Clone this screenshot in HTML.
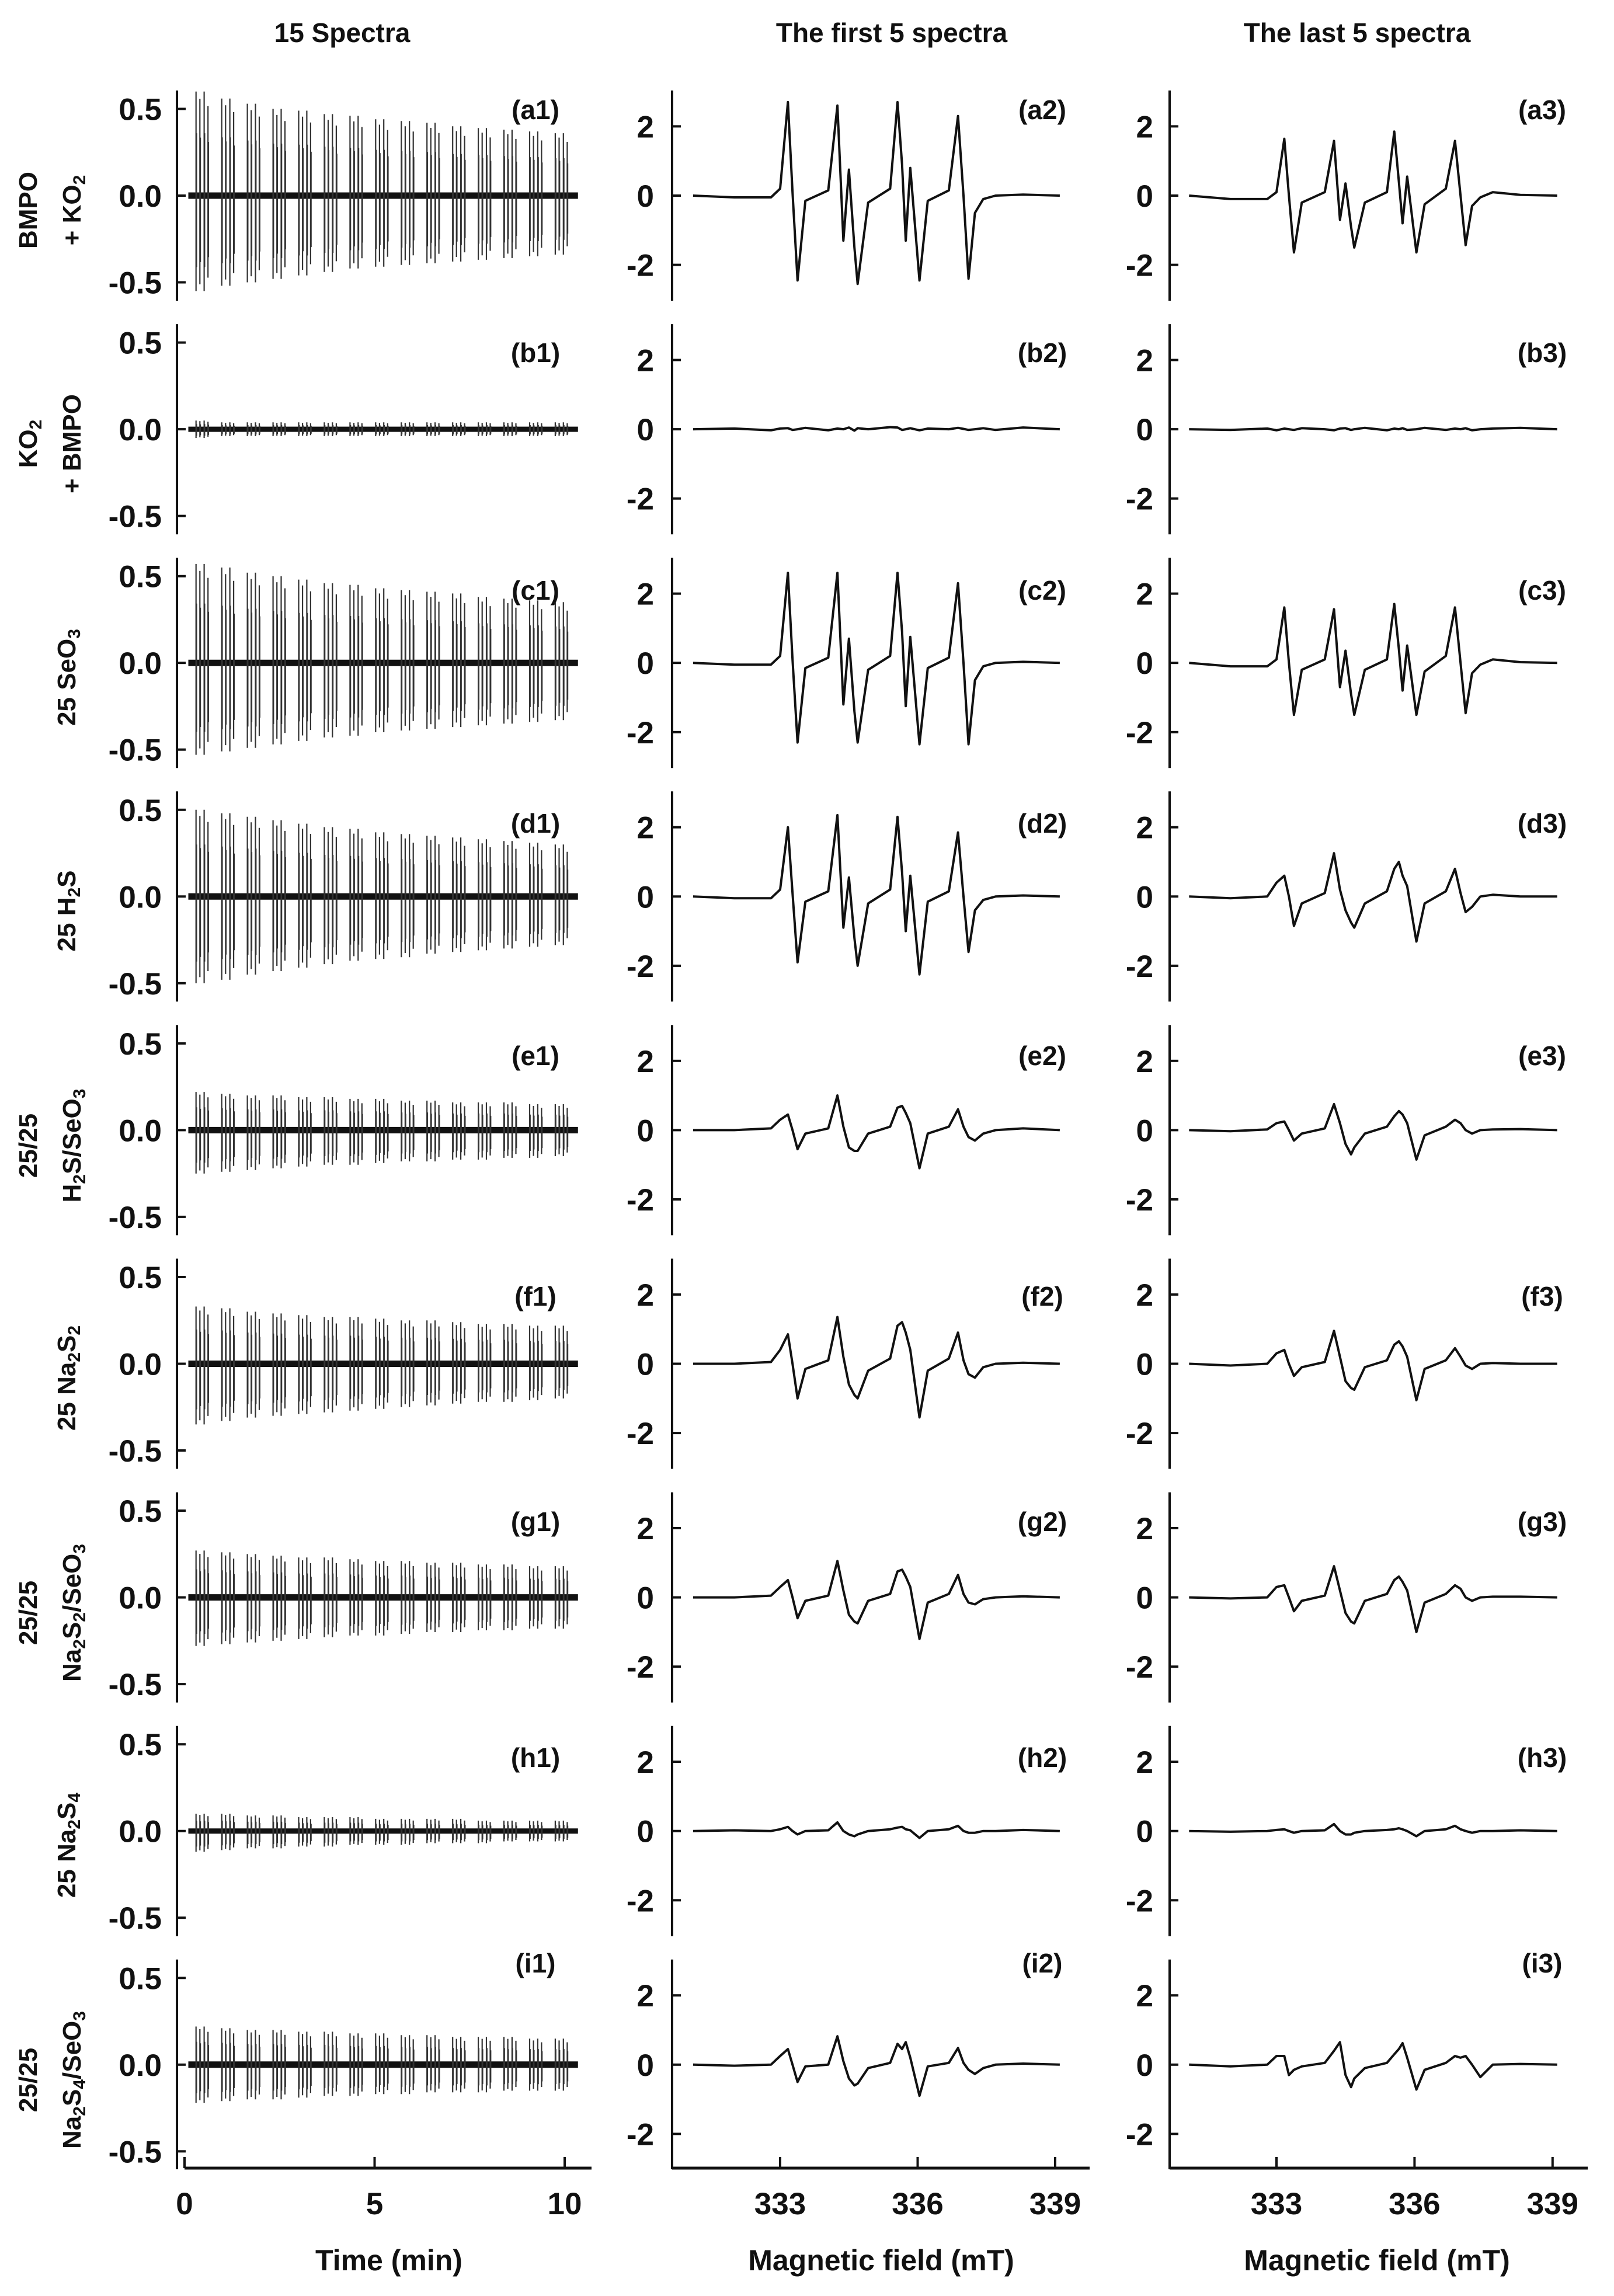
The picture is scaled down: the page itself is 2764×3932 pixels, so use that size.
<!DOCTYPE html>
<html><head><meta charset="utf-8"><style>
html,body{margin:0;padding:0;background:#fff}
svg{display:block}
text{font-family:"Liberation Sans",Arial,sans-serif;font-weight:bold;fill:#111}
</style></head><body>
<svg id="fig" xmlns="http://www.w3.org/2000/svg" width="2764" height="3932" viewBox="0 0 2764 3932">
<rect width="2764" height="3932" fill="#fff"/>
<g font-size="46" text-anchor="middle">
<text x="586" y="72">15 Spectra</text>
<text x="1527" y="72">The first 5 spectra</text>
<text x="2324" y="72">The last 5 spectra</text>
</g>
<g font-size="44" text-anchor="middle">
<text transform="rotate(-90 63 360)" x="63" y="360">BMPO</text>
<text transform="rotate(-90 138 360)" x="138" y="360">+ KO<tspan font-size="30" dy="8">2</tspan></text>
<text transform="rotate(-90 63 760)" x="63" y="760">KO<tspan font-size="30" dy="8">2</tspan></text>
<text transform="rotate(-90 138 760)" x="138" y="760">+ BMPO</text>
<text transform="rotate(-90 129 1160)" x="129" y="1160">25 SeO<tspan font-size="30" dy="8">3</tspan></text>
<text transform="rotate(-90 129 1560)" x="129" y="1560">25 H<tspan font-size="30" dy="8">2</tspan><tspan dy="-8">S</tspan></text>
<text transform="rotate(-90 63 1962)" x="63" y="1962">25/25</text>
<text transform="rotate(-90 138 1962)" x="138" y="1962">H<tspan font-size="30" dy="8">2</tspan><tspan dy="-8">S/SeO</tspan><tspan font-size="30" dy="8">3</tspan></text>
<text transform="rotate(-90 129 2360)" x="129" y="2360">25 Na<tspan font-size="30" dy="8">2</tspan><tspan dy="-8">S</tspan><tspan font-size="30" dy="8">2</tspan></text>
<text transform="rotate(-90 63 2762)" x="63" y="2762">25/25</text>
<text transform="rotate(-90 138 2762)" x="138" y="2762">Na<tspan font-size="30" dy="8">2</tspan><tspan dy="-8">S</tspan><tspan font-size="30" dy="8">2</tspan><tspan dy="-8">/SeO</tspan><tspan font-size="30" dy="8">3</tspan></text>
<text transform="rotate(-90 129 3160)" x="129" y="3160">25 Na<tspan font-size="30" dy="8">2</tspan><tspan dy="-8">S</tspan><tspan font-size="30" dy="8">4</tspan></text>
<text transform="rotate(-90 63 3562)" x="63" y="3562">25/25</text>
<text transform="rotate(-90 138 3562)" x="138" y="3562">Na<tspan font-size="30" dy="8">2</tspan><tspan dy="-8">S</tspan><tspan font-size="30" dy="8">4</tspan><tspan dy="-8">/SeO</tspan><tspan font-size="30" dy="8">3</tspan></text>
</g>
<g font-size="50" text-anchor="middle">
<text x="666" y="3888">Time (min)</text>
<text x="1509" y="3888">Magnetic field (mT)</text>
<text x="2358" y="3888">Magnetic field (mT)</text>
</g>
<g id="plots"></g>
</svg>
<script>
// ---- data ----
const rowIds = ["a","b","c","d","e","f","g","h","i"];
const labelY = [189,605,1012,1411,1809,2221,2607,3011,3363];
const col1Ticks = [-0.5, 0.0, 0.5];
const col1TickLabels = ["-0.5","0.0","0.5"];
const col23Ticks = [-2, 0, 2];
const col23TickLabels = ["-2","0","2"];
const timeTicks = [0, 5, 10];
const timeTickLabels = ["0","5","10"];
const fieldTicks = [333, 336, 339];
const fieldTickLabels = ["333","336","339"];
// magnetic field sample points (mT)
const fp = [331.1,332.0,332.8,333.0,333.17,333.27,333.38,333.55,334.05,334.25,334.38,334.5,334.62,334.69,334.92,335.4,335.56,335.66,335.74,335.84,336.04,336.22,336.68,336.88,337.0,337.11,337.25,337.43,337.7,338.3,339.1];
const a2 = [0,-0.05,-0.05,0.2,2.7,0.1,-2.45,-0.15,0.15,2.6,-1.3,0.75,-1.5,-2.55,-0.2,0.2,2.7,0.9,-1.3,0.8,-2.45,-0.15,0.15,2.3,0,-2.4,-0.5,-0.1,0,0.03,0];
const a3 = [0,-0.1,-0.1,0.1,1.64,0,-1.64,-0.2,0.1,1.58,-0.7,0.35,-0.9,-1.5,-0.2,0.1,1.85,0.4,-0.8,0.55,-1.64,-0.25,0.2,1.58,0,-1.43,-0.3,-0.05,0.1,0.02,0];
const b2 = [0,0.02,-0.03,0.02,0.03,-0.02,0,0.04,-0.03,0.02,0,0.05,-0.04,0.03,0,0.06,0.05,-0.02,0,0.03,-0.03,0.02,0,0.04,0.01,-0.02,0,0.03,-0.02,0.05,0];
const b3 = [0,-0.02,0.02,-0.03,0.02,0,-0.02,0.03,0,-0.03,0.02,0.03,-0.02,0,0.04,-0.03,0.02,0,0.03,-0.02,0,0.04,-0.02,0.02,0,0.03,-0.03,0,0.02,0.04,0];
const c2 = [0,-0.05,-0.05,0.2,2.6,0.1,-2.3,-0.15,0.15,2.6,-1.2,0.7,-1.4,-2.3,-0.2,0.2,2.6,0.9,-1.25,0.75,-2.35,-0.15,0.15,2.3,0,-2.35,-0.5,-0.1,0,0.03,0];
const c3 = [0,-0.1,-0.1,0.1,1.6,0,-1.5,-0.2,0.1,1.55,-0.7,0.35,-0.9,-1.5,-0.2,0.1,1.7,0.4,-0.8,0.5,-1.5,-0.25,0.2,1.6,0,-1.45,-0.3,-0.05,0.1,0.02,0];
const d2 = [0,-0.05,-0.05,0.2,2.0,0.1,-1.9,-0.15,0.15,2.35,-0.9,0.55,-1.2,-2.0,-0.2,0.2,2.3,0.7,-1.0,0.6,-2.25,-0.15,0.15,1.85,0,-1.6,-0.4,-0.1,0,0.03,0];
const d3 = [0,-0.05,0,0.4,0.6,0,-0.85,-0.2,0.1,1.25,0.2,-0.4,-0.75,-0.9,-0.2,0.15,0.8,1.0,0.6,0.3,-1.3,-0.2,0.15,0.8,0.1,-0.45,-0.3,0,0.05,0,0];
const e2 = [0,0,0.05,0.3,0.45,0,-0.55,-0.1,0.05,1.0,0.1,-0.5,-0.6,-0.6,-0.1,0.1,0.65,0.7,0.5,0.2,-1.1,-0.1,0.1,0.6,0.1,-0.2,-0.3,-0.1,0,0.05,0];
const e3 = [0,-0.03,0.02,0.2,0.25,0,-0.3,-0.1,0.05,0.75,0.2,-0.4,-0.7,-0.5,-0.1,0.1,0.4,0.55,0.45,0.2,-0.85,-0.15,0.1,0.3,0.2,0,-0.1,0,0.02,0.03,0];
const f2 = [0,0,0.05,0.4,0.85,0,-1.0,-0.15,0.1,1.35,0.2,-0.6,-0.9,-1.0,-0.2,0.15,1.1,1.2,0.9,0.4,-1.55,-0.2,0.15,0.9,0.1,-0.3,-0.4,-0.1,0,0.03,0];
const f3 = [0,-0.05,0,0.3,0.4,0,-0.35,-0.1,0.05,0.95,0.2,-0.5,-0.7,-0.75,-0.1,0.1,0.55,0.65,0.5,0.2,-1.05,-0.15,0.1,0.45,0.2,-0.05,-0.15,0,0.02,0,0];
const g2 = [0,0,0.05,0.3,0.5,0,-0.6,-0.1,0.05,1.05,0.2,-0.5,-0.7,-0.75,-0.1,0.1,0.75,0.8,0.6,0.3,-1.2,-0.15,0.1,0.65,0.1,-0.15,-0.2,-0.05,0,0.03,0];
const g3 = [0,-0.03,0,0.3,0.35,0,-0.4,-0.1,0.05,0.9,0.2,-0.45,-0.7,-0.75,-0.1,0.1,0.5,0.6,0.45,0.2,-1.0,-0.15,0.1,0.35,0.25,0,-0.1,0,0.02,0.02,0];
const h2 = [0,0.02,0,0.05,0.12,0,-0.1,0,0.02,0.25,0,-0.1,-0.15,-0.1,0,0.05,0.1,0.12,0.05,0.02,-0.2,0,0.05,0.15,0,-0.05,-0.05,0,0,0.03,0];
const h3 = [0,-0.02,0,0.03,0.05,0,-0.05,0,0.02,0.2,0,-0.1,-0.1,-0.05,0,0.03,0.05,0.08,0.05,0,-0.15,0,0.05,0.15,0.05,0,-0.05,0,0,0.02,0];
const i2 = [0,-0.03,0,0.25,0.45,0,-0.5,-0.05,0,0.82,0.1,-0.4,-0.6,-0.55,-0.1,0.05,0.6,0.45,0.65,0.2,-0.9,-0.05,0.05,0.48,0.05,-0.15,-0.27,-0.1,0,0.03,0];
const i3 = [0,-0.05,0,0.25,0.25,-0.3,-0.15,-0.05,0.05,0.4,0.65,-0.3,-0.65,-0.4,-0.1,0.05,0.3,0.45,0.62,0.2,-0.72,-0.15,0.05,0.25,0.2,0.25,0,-0.36,0,0.02,0];
const firstSeries = [a2,b2,c2,d2,e2,f2,g2,h2,i2];
const lastSeries = [a3,b3,c3,d3,e3,f3,g3,h3,i3];
// 15-spectra time course: spike heights (up / down) per spectrum
const aUp = [0.6,0.56,0.53,0.5,0.49,0.47,0.46,0.44,0.43,0.42,0.4,0.39,0.38,0.37,0.36];
const aDn = [0.55,0.52,0.5,0.48,0.46,0.44,0.42,0.41,0.4,0.39,0.38,0.37,0.36,0.35,0.34];
const bUp = [0.05,0.04,0.04,0.04,0.04,0.04,0.04,0.04,0.04,0.04,0.04,0.04,0.04,0.04,0.04];
const bDn = [0.05,0.04,0.04,0.04,0.04,0.04,0.04,0.04,0.04,0.04,0.04,0.04,0.04,0.04,0.04];
const cUp = [0.57,0.55,0.52,0.5,0.48,0.46,0.45,0.43,0.42,0.41,0.4,0.38,0.37,0.36,0.35];
const cDn = [0.53,0.51,0.49,0.47,0.45,0.43,0.42,0.4,0.39,0.38,0.37,0.36,0.35,0.34,0.33];
const dUp = [0.5,0.48,0.46,0.44,0.42,0.4,0.39,0.37,0.36,0.35,0.34,0.33,0.32,0.31,0.3];
const dDn = [0.5,0.48,0.45,0.43,0.41,0.39,0.37,0.36,0.35,0.33,0.32,0.31,0.3,0.29,0.28];
const eUp = [0.22,0.21,0.2,0.2,0.19,0.19,0.18,0.18,0.17,0.17,0.16,0.16,0.16,0.15,0.15];
const eDn = [0.25,0.24,0.23,0.22,0.21,0.2,0.2,0.19,0.18,0.18,0.17,0.17,0.16,0.16,0.15];
const fUp = [0.33,0.32,0.3,0.29,0.28,0.27,0.27,0.26,0.25,0.25,0.24,0.23,0.23,0.22,0.22];
const fDn = [0.35,0.33,0.31,0.3,0.29,0.28,0.27,0.26,0.25,0.24,0.23,0.22,0.22,0.21,0.2];
const gUp = [0.27,0.26,0.25,0.24,0.23,0.23,0.22,0.21,0.21,0.2,0.2,0.19,0.19,0.18,0.18];
const gDn = [0.28,0.27,0.26,0.25,0.24,0.23,0.22,0.22,0.21,0.2,0.2,0.19,0.19,0.18,0.18];
const hUp = [0.1,0.1,0.09,0.09,0.08,0.08,0.08,0.07,0.07,0.07,0.07,0.06,0.06,0.06,0.06];
const hDn = [0.12,0.11,0.1,0.1,0.09,0.09,0.08,0.08,0.08,0.07,0.07,0.07,0.06,0.06,0.06];
const iUp = [0.22,0.21,0.2,0.2,0.19,0.19,0.18,0.18,0.17,0.17,0.16,0.16,0.16,0.15,0.15];
const iDn = [0.22,0.21,0.2,0.2,0.19,0.18,0.18,0.17,0.17,0.16,0.16,0.16,0.15,0.15,0.15];
const upSeries = [aUp,bUp,cUp,dUp,eUp,fUp,gUp,hUp,iUp];
const dnSeries = [aDn,bDn,cDn,dDn,eDn,fDn,gDn,hDn,iDn];
const lineFields = [333.27, 334.47, 335.8, 336.99];
const lineRatio = [1.0, 0.93, 1.0, 0.86];
const spectrumStart = 0.12;
const spectrumPeriod = 0.675;

// ---- layout ----
const NS = "http://www.w3.org/2000/svg";
const plots = document.getElementById("plots");
function zeroY(r){ return 335 + 400.1*r; }
const col1 = {axisX:303, x:t=>316+65.1*t, yPer:297, half:180, labelRight:277, panelX:917};
const col2 = {axisX:1151, x:f=>1336+78.5*(f-333), yPer:59.3, half:180, labelRight:1120, panelX:1785, xEnd:1866};
const col3 = {axisX:2003, x:f=>2186+78.8*(f-333), yPer:59.3, half:180, labelRight:1975, panelX:2641, xEnd:2719};
function mk(tag, attrs, parent){
  const e = document.createElementNS(NS, tag);
  for (const k in attrs) e.setAttribute(k, attrs[k]);
  (parent||plots).appendChild(e);
  return e;
}
function yAxis(c, r, ticks, labels, g){
  const z = zeroY(r);
  const bottom = (r===8) ? 3715 : z + c.half;
  const ax = mk("line",{x1:c.axisX,y1:z-c.half,x2:c.axisX,y2:bottom,stroke:"#111","stroke-width":4},g);
  
  
  ticks.forEach((v,k)=>{
    const y = z - v*c.yPer;
    const t = mk("line",{x1:c.axisX,y1:y,x2:c.axisX+15,y2:y,stroke:"#111","stroke-width":4},g);
    
    
    const tx = mk("text",{x:c.labelRight,y:y+19,"text-anchor":"end","font-size":53},g);
    tx.textContent = labels[k];
    
    
  });
}
function xAxis(c, x0, x1, ticks, labels, mapFn, g){
  const ax = mk("line",{x1:x0,y1:3713,x2:x1,y2:3713,stroke:"#111","stroke-width":5},g);
  
  
  ticks.forEach((v,k)=>{
    const x = mapFn(v);
    const t = mk("line",{x1:x,y1:3713,x2:x,y2:3694,stroke:"#111","stroke-width":4},g);
    
    
    const tx = mk("text",{x:x,y:3792,"text-anchor":"middle","font-size":53},g);
    tx.textContent = labels[k];
    
    
  });
}
function panelLabel(c, r, colN, g){
  const tx = mk("text",{x:c.panelX,y:labelY[r]+15,"text-anchor":"middle","font-size":46},g);
  tx.textContent = "(" + rowIds[r] + colN + ")";
  
  
}

for (let r=0; r<9; r++){
  const z = zeroY(r);
  // column 1: time course
  const g1 = mk("g",{});
  
  
  yAxis(col1, r, col1Ticks, col1TickLabels, g1);
  panelLabel(col1, r, 1, g1);
  const band = mk("line",{x1:col1.x(0.1),y1:z,x2:col1.x(10.35),y2:z,stroke:"#111","stroke-width":(r===1||r===7)?9:11},g1);
  
  
  const up = upSeries[r], dn = dnSeries[r];
  let d = "";
  for (let k=0; k<up.length; k++){
    const t0 = spectrumStart + k*spectrumPeriod;
    lineFields.forEach((f,j)=>{
      const t = t0 + spectrumPeriod*(f-331.1)/8;
      const x = col1.x(t).toFixed(1);
      d += "M"+x+" "+(z - up[k]*lineRatio[j]*col1.yPer).toFixed(1)+"V"+(z + dn[k]*lineRatio[j]*col1.yPer).toFixed(1);
      const x2 = col1.x(t+0.012).toFixed(1);
      d += "M"+x2+" "+(z - 0.6*up[k]*lineRatio[j]*col1.yPer).toFixed(1)+"V"+(z + 0.75*dn[k]*lineRatio[j]*col1.yPer).toFixed(1);
    });
  }
  const sp = mk("path",{d:d,stroke:"#333","stroke-width":2.2,fill:"none"},g1);
  
  
  if (r===8) xAxis(col1, 316, 1013, timeTicks, timeTickLabels, col1.x, g1);

  // column 2 and 3 spectra
  [[col2, firstSeries[r], 2],[col3, lastSeries[r], 3]].forEach(([c, vals, n])=>{
    const g = mk("g",{});
    
    
    yAxis(c, r, col23Ticks, col23TickLabels, g);
    panelLabel(c, r, n, g);
    const pts = fp.map((f,k)=> c.x(f).toFixed(1)+","+(z - vals[k]*c.yPer).toFixed(1)).join(" ");
    const pl = mk("polyline",{points:pts,stroke:"#111","stroke-width":4,fill:"none","stroke-linejoin":"round"},g);
    
    
    if (r===8) xAxis(c, c.axisX, c.xEnd, fieldTicks, fieldTickLabels, c.x, g);
  });
}
</script>
</body></html>
